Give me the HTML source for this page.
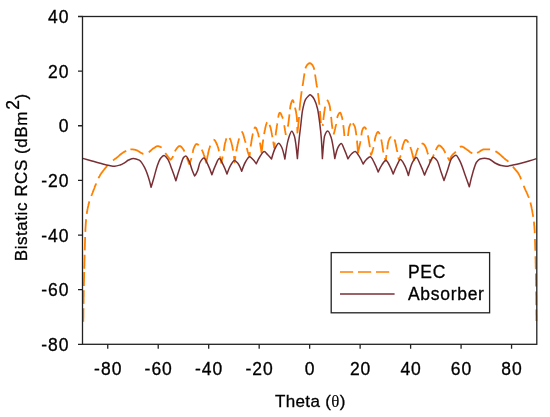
<!DOCTYPE html>
<html><head><meta charset="utf-8"><style>
html,body{margin:0;padding:0;background:#fff;}
body{width:550px;height:417px;overflow:hidden;}
svg{display:block;}
</style></head><body>
<svg width="550" height="417" viewBox="0 0 550 417">
<rect width="550" height="417" fill="#fff"/>
<path d="M83.3 321.8L83.3 320.9 83.3 320.1 83.3 319.2 83.3 318.4 83.4 317.6 83.4 316.8 83.4 315.9 83.4 315.1 83.4 314.3 83.4 313.5 83.4 312.6 83.4 311.8 83.4 311.0 83.4 310.2 83.5 309.4 83.5 308.5 83.5 308.2M83.5 303.8L83.6 303.0 83.6 302.2 83.6 301.3 83.6 300.5 83.6 299.6 83.6 298.8 83.6 298.0 83.6 297.2 83.7 296.4 83.7 295.5 83.7 294.7 83.7 293.9 83.7 293.1 83.7 292.2 83.8 291.4 83.8 290.6 83.8 290.2M83.9 286.0L83.9 285.2 83.9 284.3 83.9 283.5 83.9 282.7 84.0 281.9 84.0 281.1 84.0 280.3 84.0 279.4 84.0 278.6 84.1 277.8 84.1 277.0 84.1 276.2 84.1 275.3 84.1 274.5 84.1 273.7 84.2 272.9 84.2 272.1 84.2 272.0M84.3 268.8L84.3 268.0 84.3 267.2 84.3 266.3 84.4 265.5 84.4 264.7 84.4 263.9 84.4 263.1 84.4 262.3 84.5 261.4 84.5 260.6 84.5 259.8 84.5 259.0 84.5 258.1 84.6 257.3 84.6 256.5 84.6 255.6 84.6 254.8M84.7 250.4L84.8 249.6 84.8 248.7 84.8 247.9 84.8 247.1 84.9 246.3 84.9 245.5 84.9 244.7 84.9 243.8 85.0 243.0 85.0 242.2 85.0 241.4 85.0 240.6 85.1 239.8 85.1 239.0 85.1 238.1 85.1 237.3 85.1 237.0M85.3 231.9L85.4 231.1 85.4 230.3 85.4 229.5 85.5 228.7 85.5 227.8 85.6 227.0 85.6 226.2 85.7 225.4 85.7 224.6 85.8 223.7 85.8 222.9 85.9 222.1 86.0 221.2 86.0 220.4 86.1 219.6 86.2 219.3M86.8 213.8L86.9 213.0 87.0 212.2 87.2 211.3 87.3 210.5 87.4 209.7 87.6 208.9 87.7 208.1 87.9 207.3 88.1 206.5 88.3 205.7 88.4 204.9 88.7 204.1 88.9 203.3 89.1 202.5 89.3 201.7 89.4 201.4M91.3 196.0L91.6 195.2 91.9 194.5 92.2 193.7 92.5 193.0 92.8 192.2 93.1 191.4 93.4 190.6 93.7 189.8 94.0 189.1 94.3 188.3 94.6 187.5 94.8 186.8 95.1 186.0 95.5 185.3 95.8 184.5 96.1 183.7 96.2 183.4M98.5 178.3L98.8 177.5 99.2 176.8 99.6 176.1 100.0 175.3 100.4 174.6 100.9 173.9 101.3 173.2 101.8 172.6 102.3 171.9 102.8 171.3 103.3 170.6 103.8 170.0 104.3 169.3 104.8 168.7 105.4 168.0 105.9 167.4 106.4 166.8 106.9 166.1 107.3 165.7M113.1 160.5L113.8 159.9 114.4 159.4 115.0 158.9 115.7 158.4 116.4 157.9 117.0 157.4 117.7 156.9 118.3 156.4 118.9 155.9 119.5 155.3 120.1 154.8 120.8 154.3 121.4 153.7 122.1 153.2 122.8 152.8 123.5 152.3 124.2 151.9 124.9 151.4 125.6 151.1 126.2 150.8M130.4 149.4L131.2 149.3 132.1 149.3 132.9 149.4 133.8 149.6 134.5 149.7 135.3 149.9 136.1 150.1 136.9 150.3 137.6 150.7 138.4 151.1 139.0 151.6 139.7 152.0 140.4 152.5 141.1 152.9 141.9 153.2 142.6 153.6 143.3 153.9 143.4 153.9M148.8 152.4L149.4 151.8 150.0 151.3 150.6 150.8 151.2 150.2 151.8 149.6 152.4 149.1 153.1 148.6 153.8 148.1 154.5 147.7 155.2 147.2 155.8 146.8 156.6 146.4 157.4 146.2 158.2 146.2 159.0 146.4 159.8 146.6 160.5 147.0 161.3 147.3 161.7 147.5M165.3 153.0L165.8 153.7 166.3 154.4 166.8 155.0 167.2 155.7 167.7 156.3 168.2 157.0 168.8 157.7 169.3 158.4 169.8 159.0 170.3 159.7 170.9 159.4 171.5 158.8 172.0 158.1 172.4 157.5 172.9 156.8 173.2 156.2M175.0 151.4L175.3 150.6 175.7 149.9 176.2 149.2 176.7 148.5 177.2 147.9 177.7 147.3 178.3 146.7 178.9 146.2 179.7 146.0 180.5 146.2 181.2 146.7 181.7 147.3 182.2 147.9 182.7 148.6 183.2 149.3 183.7 150.0 184.1 150.7 184.4 151.4 184.5 151.5M186.9 157.8L187.2 158.6 187.5 159.4 187.8 160.2 188.1 160.9 188.4 161.7 188.6 162.4 188.9 163.2 189.2 164.0 189.6 163.3 190.0 162.5 190.3 161.7 190.6 161.0 190.8 160.2 191.1 159.4 191.3 158.6 191.5 158.0M192.7 152.8L192.8 152.0 193.0 151.2 193.1 150.4 193.3 149.6 193.6 148.8 193.9 148.0 194.2 147.3 194.6 146.5 194.9 145.8 195.3 145.1 195.8 144.4 196.5 144.0 197.3 144.2 198.0 144.6 198.6 145.1 198.7 145.3M201.8 149.6L202.1 150.4 202.5 151.1 202.8 151.9 203.1 152.6 203.4 153.4 203.7 154.2 203.9 155.0 204.2 155.8 204.4 156.6 204.7 157.4 204.9 158.2 205.1 159.0 205.4 159.8 205.6 160.6 205.8 161.4 206.0 162.1 206.2 162.9 206.3 162.2 206.5 161.4 206.6 160.7 206.8 159.8 206.9 159.0 207.1 158.2 207.3 157.4 207.4 156.6 207.6 155.8 207.8 155.0 208.0 154.2 208.2 153.3 208.4 152.5 208.5 151.7 208.7 150.9 208.9 150.1 209.1 149.3 209.3 148.5 209.6 147.7 209.8 146.9 210.1 146.2 210.3 145.7M213.5 139.7L214.3 139.8 214.8 140.3 215.3 141.0 215.7 141.7 216.0 142.5 216.4 143.2 216.7 144.0 217.1 144.7 217.4 145.5 217.7 146.2 217.9 147.0 218.2 147.8 218.4 148.6 218.6 149.4 218.8 150.2 219.0 151.0 219.1 151.3M220.1 156.3L220.2 157.1 220.4 157.9 220.5 158.7 220.7 159.5 220.8 160.3 220.9 161.1 221.0 161.9 221.2 162.8 221.3 162.4 221.5 161.7 221.7 160.9 221.9 160.1 222.1 159.3 222.3 158.5 222.5 157.7 222.6 156.9 222.7 156.5M223.8 150.8L223.9 150.0 224.1 149.1 224.2 148.3 224.3 147.5 224.4 146.6 224.6 145.8 224.7 145.0 224.8 144.3 225.0 143.4 225.2 142.6 225.5 141.8 225.7 141.0 225.9 140.2 226.1 139.4 226.4 138.6 226.5 138.4M229.5 138.0L229.9 138.7 230.3 139.5 230.6 140.2 230.9 141.0 231.1 141.8 231.4 142.6 231.6 143.4 231.8 144.1 232.0 145.0 232.2 145.8 232.3 146.6 232.5 147.4 232.6 148.2 232.8 149.0 233.0 149.8 233.1 150.6M233.9 156.1L234.0 156.9 234.1 157.7 234.2 158.5 234.3 159.4 234.3 160.2 234.4 161.0 234.5 161.8 234.6 162.4 234.7 161.6 234.8 160.7 235.0 159.9 235.1 159.1 235.2 158.3 235.3 157.5 235.4 156.7 235.5 156.2M236.3 151.4L236.4 150.6 236.6 149.8 236.7 149.0 236.9 148.2 237.0 147.4 237.2 146.6 237.4 145.7 237.5 144.9 237.7 144.1 237.9 143.4 238.1 142.5 238.3 141.7 238.5 140.9 238.7 140.1 238.9 139.3 239.1 138.5 239.1 138.4M241.4 131.9L242.1 132.0 242.6 132.7 242.9 133.5 243.2 134.3 243.4 135.1 243.7 135.9 243.9 136.7 244.1 137.5 244.3 138.3 244.6 139.1 244.8 139.9 245.0 140.7 245.3 141.5 245.5 142.3 245.6 142.7M246.8 148.0L247.0 148.8 247.2 149.6 247.4 150.4 247.6 151.2 247.8 152.0 248.1 152.7 248.3 153.5 248.6 154.3 248.9 155.1 249.2 155.9 249.5 156.3 249.6 155.5 249.7 154.7 249.8 153.9 249.9 153.0 250.0 152.2M250.7 146.5L250.8 145.6 250.9 144.8 251.0 144.0 251.2 143.2 251.3 142.4 251.4 141.6 251.6 140.8 251.7 140.0 251.8 139.1 252.0 138.3 252.1 137.5 252.2 136.7 252.4 135.9 252.6 135.1 252.7 134.3 252.9 133.6M254.3 128.7L254.6 127.9 255.0 127.3 255.7 127.5 256.2 128.2 256.5 129.0 256.9 129.7 257.1 130.5 257.4 131.3 257.7 132.0 257.9 132.8 258.2 133.6 258.4 134.4 258.5 135.2 258.7 136.0 258.9 136.8 258.9 137.2M260.0 142.7L260.1 143.5 260.3 144.4 260.4 145.2 260.5 146.0 260.7 146.8 260.8 147.6 260.9 148.4 261.1 149.3 261.2 150.1 261.3 150.9 261.4 151.7 261.5 152.6 261.6 152.6 261.7 151.8 261.8 151.0 261.9 150.2 262.0 149.4 262.1 148.6 262.2 147.7 262.3 146.9 262.4 146.1 262.5 145.3 262.5 144.5 262.6 143.6 262.8 142.8 262.9 142.0 263.0 141.2 263.1 140.3 263.2 139.5 263.2 139.4M264.1 134.1L264.3 133.3 264.4 132.4 264.6 131.6 264.7 130.8 264.9 130.0 265.1 129.2 265.2 128.4 265.4 127.5 265.6 126.7 265.8 125.9 266.0 125.1 266.2 124.3 266.5 123.6 266.8 122.8 267.4 122.5M269.4 124.9L269.8 125.6 270.1 126.4 270.4 127.2 270.6 127.9 270.8 128.7 271.0 129.5 271.1 130.3 271.3 131.1 271.5 131.9 271.6 132.7 271.8 133.5 271.9 134.4 272.1 135.2 272.2 136.0 272.4 136.8 272.5 137.2M273.2 141.6L273.4 142.4 273.5 143.2 273.6 144.1 273.7 144.9 273.9 145.7 274.0 146.5 274.1 147.3 274.2 147.8 274.3 147.0 274.4 146.2 274.5 145.4 274.6 144.5 274.6 143.7 274.7 142.9 274.8 142.5M275.6 135.4L275.7 134.6 275.8 133.8 275.9 133.0 276.0 132.2 276.1 131.4 276.2 130.6 276.3 129.8 276.5 129.0 276.6 128.2 276.7 127.3 276.8 126.5 276.9 125.7 277.1 124.9 277.2 124.0 277.3 123.3M278.2 117.7L278.3 116.9 278.5 116.1 278.6 115.3 278.8 114.5 279.1 113.7 279.4 113.0 280.1 112.9 280.7 113.5 281.1 114.2 281.5 115.0 281.8 115.8 282.1 116.5 282.4 117.3 282.7 118.1 282.9 118.6M284.2 125.3L284.4 126.1 284.5 126.9 284.6 127.7 284.8 128.5 284.9 129.3 285.0 130.2 285.2 131.0 285.3 131.8 285.4 132.6 285.6 133.4 285.7 134.2 285.8 135.0M287.9 126.6L288.1 125.8 288.2 125.0 288.3 124.2 288.4 123.3 288.5 122.5 288.6 121.7 288.7 120.9 288.8 120.1 288.9 119.2 289.0 118.4 289.1 117.6 289.2 116.8 289.3 115.9 289.4 115.1 289.5 114.4M290.0 109.3L290.1 108.5 290.2 107.7 290.3 106.8 290.4 106.0 290.6 105.2 290.8 104.4 291.1 103.6 291.3 102.8 291.5 102.0 291.8 101.3 292.2 100.5 292.8 100.1 293.2 100.8 293.5 101.6 293.7 102.4 293.9 103.1M295.0 107.6L295.2 108.4 295.4 109.2 295.6 110.0 295.8 110.8 296.0 111.6 296.1 112.4 296.2 113.2 296.4 114.0 296.5 114.8 296.6 115.6 296.7 116.4 296.8 117.3 296.9 118.1 296.9 118.9 297.0 119.8 297.1 120.6 297.1 121.4 297.1 122.0M297.2 126.8L297.3 127.7 297.3 128.5 297.3 129.4 297.3 130.2 297.4 131.1 297.4 131.9 297.4 132.7 297.5 132.1 297.6 131.3 297.7 130.5 297.8 129.7 297.9 128.8 298.0 128.0 298.1 127.2 298.2 126.4 298.3 125.6 298.3 124.7 298.4 123.9 298.5 123.0 298.6 122.2 298.7 121.4 298.7 120.6 298.8 119.8 298.9 119.0 298.9 118.1 299.0 117.3 299.0 117.0M299.5 110.5L299.6 109.7 299.6 108.9 299.7 108.0 299.8 107.2 299.9 106.4 300.0 105.6 300.0 104.8 300.1 103.9 300.2 103.1 300.3 102.3 300.4 101.5 300.5 100.7 300.6 99.9 300.7 99.1 300.8 98.2 300.9 97.4 301.0 96.6 301.1 95.7 301.2 94.9 301.3 94.1 301.4 93.3 301.5 92.4 301.6 91.6 301.6 91.3M302.6 86.0L302.7 85.2 302.8 84.4 303.0 83.6 303.1 82.8 303.2 82.0 303.3 81.2 303.4 80.4 303.6 79.6 303.7 78.7 303.8 77.9 303.9 77.1 304.0 76.3 304.2 75.5 304.3 74.7 304.4 73.9 304.5 73.4M305.4 68.4L305.7 67.6 306.0 66.9 306.4 66.1 306.8 65.4 307.3 64.7 307.9 64.2 308.5 63.6 309.2 63.2 310.0 63.1 310.7 63.5 311.4 64.0 312.0 64.6 312.5 65.2 312.9 65.9 313.3 66.6 313.6 67.3 313.9 68.1 314.1 68.9 314.3 69.7M315.1 74.5L315.2 75.3 315.3 76.1 315.5 77.0 315.6 77.8 315.7 78.6 315.8 79.4 315.9 80.2 316.1 81.0 316.2 81.8 316.3 82.6 316.4 83.5 316.5 84.3 316.7 85.1 316.8 85.9 317.0 86.7 317.1 87.5M318.0 93.2L318.1 94.0 318.2 94.9 318.3 95.7 318.4 96.5 318.5 97.3 318.6 98.2 318.7 99.0 318.8 99.8 318.9 100.7 319.0 101.5 319.1 102.3 319.2 103.1 319.3 103.9 319.4 104.7 319.4 104.8M320.0 111.0L320.0 111.9 320.1 112.7 320.1 113.5 320.2 114.3 320.3 115.2 320.3 116.0 320.4 116.8 320.4 117.6 320.5 118.4 320.6 119.2 320.6 120.1 320.7 120.9 320.8 121.7 320.9 122.5 320.9 123.1M322.8 125.9L322.9 125.0 322.9 124.2 323.0 124.0M323.4 120.0L323.4 119.2 323.5 118.4 323.6 117.6 323.7 116.8 323.8 116.0 323.9 115.1 324.0 114.3 324.1 113.5 324.2 112.7 324.3 111.9 324.4 111.0 324.6 110.2 324.7 109.4 324.8 108.6 324.9 107.8 325.1 107.0 325.2 106.6M327.0 100.0L327.6 100.6 328.1 101.3 328.4 102.1 328.7 102.8 329.0 103.6 329.3 104.4 329.5 105.2 329.7 106.0 329.9 106.8 330.0 107.6 330.1 108.4 330.2 109.2 330.3 110.0 330.4 110.8M331.1 116.8L331.2 117.6 331.3 118.5 331.4 119.3 331.5 120.1 331.5 120.9 331.6 121.8 331.7 122.6 331.8 123.4 331.9 124.2 331.9 125.0 332.0 125.8 332.2 126.7 332.3 127.5 332.4 128.3 332.5 128.8M333.6 134.5L333.8 133.7 334.1 132.9 334.3 132.1 334.5 131.3 334.7 130.5 334.9 129.7 335.1 128.9 335.2 128.1 335.4 127.3 335.6 126.5 335.8 125.7 336.0 124.9 336.1 124.1 336.1 124.0M337.1 118.0L337.3 117.3 337.5 116.5 337.9 115.7 338.2 114.9 338.5 114.2 339.0 113.5 339.5 112.8 340.2 112.7 340.7 113.3 341.0 114.1 341.3 114.9 341.5 115.7 341.8 116.5 342.0 117.3 342.2 118.1 342.4 118.9 342.5 119.7 342.6 119.9M343.3 125.2L343.4 126.0 343.5 126.8 343.6 127.6 343.7 128.5 343.8 129.3 343.9 130.2 344.0 131.0 344.0 131.8 344.1 132.6 344.2 133.5 344.3 134.3 344.3 135.1 344.4 135.9 344.4 136.0M346.9 141.6L346.9 141.5M348.0 136.0L348.1 135.2 348.2 134.4 348.3 133.6 348.4 132.8 348.5 132.0 348.6 131.1 348.7 130.3 348.8 129.5 348.9 128.7 349.0 127.9 349.2 127.1 349.5 126.3 349.8 125.5 350.1 124.7 350.5 124.0 350.9 123.5M352.7 123.4L353.3 124.0 353.8 124.7 354.2 125.4 354.6 126.1 354.9 126.8 355.1 127.6 355.3 128.5 355.4 129.3 355.6 130.1 355.7 131.0 355.8 131.8 356.0 132.6 356.1 133.4 356.2 134.2 356.3 135.1 356.3 135.3M357.0 140.6L357.1 141.5 357.1 142.3 357.2 143.1 357.3 143.9 357.4 144.7 357.4 145.5 357.5 146.4 357.6 147.2 357.6 148.1 357.7 148.9 357.8 149.7 357.8 150.5 357.9 151.3 358.0 152.2 358.1 152.6 358.3 151.8 358.4 151.0 358.6 150.2 358.8 149.4 359.0 148.6 359.2 147.8 359.3 147.0 359.5 146.2 359.7 145.3 359.9 144.5 360.0 143.7 360.2 142.9 360.3 142.1 360.5 141.3 360.5 141.2M361.4 135.3L361.5 134.5 361.6 133.7 361.7 132.9 361.8 132.1 362.0 131.3 362.2 130.5 362.5 129.7 362.8 128.9 363.2 128.2 363.7 127.6 364.4 127.2 365.1 127.6 365.6 128.2 366.0 128.9 366.3 129.5M368.0 135.3L368.1 136.1 368.2 136.9 368.4 137.7 368.5 138.5 368.6 139.3 368.7 140.1 368.9 140.9 369.0 141.7 369.1 142.5 369.3 143.4 369.4 144.2 369.5 145.0 369.7 145.8 369.8 146.6 369.9 147.1M370.6 152.4L370.7 153.2 370.9 154.0 371.0 154.8 371.3 154.5 371.6 153.7 371.9 152.9 372.1 152.1 372.4 151.4 372.6 150.6 372.8 149.8 373.0 149.0 373.3 148.2 373.5 147.4 373.6 147.1M374.6 141.3L374.7 140.5 374.9 139.6 375.0 138.8 375.2 138.0 375.4 137.2 375.6 136.4 375.9 135.6 376.2 134.8 376.4 134.1 376.8 133.3 377.2 132.6 377.7 131.9 378.4 132.0 378.9 132.6 379.3 133.3 379.6 134.1 379.6 134.2M381.2 139.5L381.4 140.3 381.6 141.1 381.7 141.9 381.9 142.7 382.0 143.6 382.1 144.4 382.3 145.2 382.4 146.0 382.5 146.8 382.6 147.6 382.7 148.5 382.9 149.3 383.0 150.1 383.1 150.9 383.3 151.7 383.5 152.5M384.8 157.9L385.0 158.6 385.2 159.4 385.5 160.2 385.8 161.0 385.9 160.2 386.0 159.4 386.1 158.5 386.1 157.7 386.2 156.9 386.3 156.1 386.4 155.2 386.4 155.1M387.2 149.3L387.3 148.5 387.4 147.6 387.5 146.8 387.6 146.0 387.7 145.2 387.9 144.4 388.0 143.5 388.1 142.7 388.3 141.9 388.5 141.1 388.8 140.3 389.1 139.6 389.4 138.8 389.8 138.1 390.3 137.5 391.0 137.2 391.3 137.3M394.3 139.6L394.8 140.3 395.0 141.1 395.2 141.8 395.4 142.7 395.6 143.5 395.7 144.3 395.9 145.2 396.0 146.0 396.2 146.8 396.4 147.6 396.6 148.4 396.7 149.2 396.9 150.0 397.1 150.8 397.3 151.6 397.3 151.9M398.3 157.4L398.5 158.2 398.6 159.0 398.9 159.5 399.3 158.8 399.7 158.0 400.1 157.3 400.4 156.5 400.6 155.7 400.8 155.3M402.0 149.8L402.2 149.0 402.3 148.2 402.5 147.3 402.6 146.5 402.8 145.8 403.0 145.0 403.3 144.2 403.6 143.4 403.9 142.6 404.2 141.8 404.5 141.1 404.9 140.4 405.5 139.8 406.3 140.0 406.9 140.5 407.4 141.2 407.9 141.8 408.4 142.5 408.4 142.6M410.3 147.0L410.6 147.8 410.8 148.5 411.1 149.3 411.4 150.1 411.6 150.9 411.8 151.7 412.0 152.5 412.2 153.2 412.4 154.1 412.6 154.8 412.8 155.7 413.0 156.4 413.2 157.2 413.4 158.0 413.6 158.9 413.7 159.4M414.0 160.9L414.2 160.1 414.4 159.3 414.7 158.5 414.9 157.7 415.1 156.9 415.3 156.1 415.6 155.4 415.8 154.6 416.1 153.8 416.3 153.0 416.6 152.2 416.8 151.4 417.1 150.6 417.4 149.8 417.7 149.1 418.1 148.3 418.3 148.0M421.6 143.8L422.4 143.5 423.1 143.7 423.8 144.2 424.3 144.8 424.8 145.5 425.2 146.2 425.6 146.9 425.9 147.6 426.2 148.4 426.5 149.1 426.7 149.9 427.0 150.7 427.2 151.5 427.4 152.3 427.7 153.1 427.9 153.9 428.1 154.3M429.4 159.1L429.6 159.9 429.8 160.7 430.0 161.4 430.2 162.2 430.5 161.6 430.9 160.9 431.3 160.1 431.6 159.4 432.0 158.6 432.3 157.9 432.7 157.1 433.0 156.4 433.4 155.6 433.7 154.9 433.9 154.5M435.7 150.0L436.1 149.3 436.5 148.6 436.9 147.8 437.3 147.1 437.8 146.4 438.3 145.8 439.0 145.4 439.8 145.6 440.5 146.0 441.1 146.6 441.7 147.2 442.2 147.8 442.7 148.4 443.3 149.0 443.7 149.7 444.1 150.5 444.5 151.2 444.9 151.9 445.2 152.7 445.4 153.0M447.8 157.4L448.1 158.1 448.5 158.8 448.9 159.6 449.3 160.3 449.6 160.0 449.9 159.2 450.3 158.4 450.6 157.7 451.0 156.9 451.4 156.2 451.9 155.5 452.4 154.9 453.0 154.3 453.6 153.8 454.2 153.2 454.8 152.7 455.4 152.1 455.8 151.7M459.8 146.9L460.6 146.6 461.4 146.5 462.2 146.7 463.0 147.0 463.7 147.4 464.4 147.8 465.0 148.3 465.7 148.8 466.4 149.2 467.1 149.7 467.8 150.1 468.4 150.6 469.1 151.2 469.7 151.7 470.4 152.2 471.1 152.6 471.8 153.0 472.4 153.3M477.0 152.8L477.8 152.5 478.5 152.1 479.3 151.7 480.0 151.3 480.6 150.8 481.3 150.4 482.1 150.0 482.8 149.7 483.6 149.4 484.4 149.4 485.2 149.4 486.0 149.3 486.8 149.3 487.6 149.3 488.4 149.3 489.2 149.3 490.0 149.4 490.1 149.4M495.4 151.2L496.1 151.6 496.8 152.0 497.5 152.5 498.1 153.0 498.8 153.5 499.4 154.0 500.1 154.6 500.7 155.1 501.3 155.7 501.9 156.2 502.5 156.8 503.1 157.3 503.7 157.9 504.3 158.4 505.0 159.0 505.6 159.5 506.3 160.0 507.0 160.4 507.6 160.9 508.3 161.4 508.5 161.6M512.9 166.6L513.4 167.3 513.9 167.9 514.5 168.6 515.0 169.2 515.5 169.8 516.0 170.4 516.6 171.1 517.1 171.7 517.6 172.3 518.1 173.0 518.5 173.7 518.9 174.4 519.3 175.1 519.7 175.9 520.1 176.6 520.4 177.4 520.7 178.1 521.0 178.9 521.2 179.2M523.7 185.8L524.0 186.6 524.3 187.4 524.7 188.1 525.0 188.9 525.3 189.6 525.7 190.4 526.0 191.1 526.4 191.8 526.7 192.6 527.1 193.3 527.4 194.1 527.7 194.8 528.0 195.6 528.3 196.3 528.7 197.1 528.9 197.9M530.4 202.5L530.6 203.3 530.8 204.1 531.0 204.9 531.2 205.7 531.3 206.5 531.5 207.3 531.7 208.1 531.8 208.9 532.0 209.7 532.2 210.6 532.3 211.4 532.4 212.2 532.6 213.0 532.7 213.9 532.9 214.7 533.0 215.5 533.1 216.3 533.2 216.8M533.9 221.7L534.0 222.6 534.1 223.4 534.1 224.3 534.2 225.1 534.3 225.9 534.4 226.7 534.4 227.6 534.5 228.4 534.5 229.2 534.6 230.0 534.7 230.8 534.7 231.6 534.7 232.4 534.8 233.2M535.0 238.9L535.0 239.7 535.0 240.6 535.0 241.4 535.1 242.2 535.1 243.0 535.1 243.9 535.1 244.7 535.2 245.5 535.2 246.4 535.2 247.2 535.2 248.0 535.3 248.9 535.3 249.7 535.3 250.5 535.3 250.8M535.5 256.2L535.5 257.0 535.5 257.9 535.5 258.7 535.6 259.5 535.6 260.3 535.6 261.1 535.6 262.0 535.6 262.8 535.7 263.6 535.7 264.5 535.7 265.3 535.7 266.1 535.7 267.0 535.8 267.8 535.8 268.6 535.8 269.3M535.9 273.6L535.9 274.4 535.9 275.2 535.9 276.1 535.9 276.9 535.9 277.7 535.9 278.5 535.9 279.4 536.0 280.2 536.0 281.0 536.0 281.9 536.0 282.7 536.0 283.5 536.0 284.3 536.0 285.2 536.0 286.0 536.0 286.6M536.1 291.6L536.1 292.5 536.1 293.3 536.1 294.1 536.1 294.9 536.2 295.8 536.2 296.6 536.2 297.4 536.2 298.2 536.2 299.1 536.2 299.9 536.2 300.7 536.2 301.5 536.2 302.3 536.2 303.1 536.2 304.0 536.3 304.8 536.3 305.3M536.3 309.6L536.3 310.4 536.3 311.2 536.3 312.1 536.3 312.9 536.3 313.7 536.3 314.6 536.4 315.4 536.4 316.2 536.4 317.0 536.4 317.8 536.4 318.7 536.4 319.5 536.4 320.3 536.4 321.0" fill="none" stroke="#FF8000" stroke-width="1.8" stroke-linejoin="round"/>
<path d="M82.80 158.40C85.57 159.17 88.33 159.94 91.10 160.70C94.13 161.54 97.17 162.40 100.20 163.20C103.23 164.00 106.27 164.99 109.30 165.50C111.10 165.80 112.90 166.20 114.70 166.20C116.53 166.20 118.37 165.57 120.20 165.00C121.63 164.55 123.07 163.64 124.50 162.80C125.87 162.00 127.23 160.61 128.60 160.00C130.23 159.27 131.87 158.40 133.50 158.40C135.40 158.40 137.30 159.22 139.20 160.20C140.93 161.10 142.67 164.12 144.40 167.20C145.73 169.57 147.07 173.26 148.40 177.30C149.30 180.02 150.20 183.49 151.10 187.20C151.97 184.39 152.83 181.49 153.70 178.50C154.80 174.70 155.90 169.88 157.00 166.70C158.10 163.52 159.20 160.15 160.30 158.70C161.53 157.08 162.77 155.40 164.00 155.40C165.30 155.40 166.60 157.52 167.90 159.40C169.23 161.33 170.57 165.77 171.90 169.30C173.23 172.83 174.57 176.65 175.90 180.70C177.20 176.12 178.50 171.85 179.80 168.00C181.10 164.15 182.40 158.68 183.70 157.40C184.37 156.74 185.03 156.10 185.70 156.10C186.80 156.10 187.90 158.61 189.00 160.70C190.10 162.79 191.20 167.72 192.30 170.60C193.07 172.60 193.83 174.41 194.60 176.00C195.60 175.07 196.60 172.97 197.60 170.60C198.40 168.70 199.20 163.93 200.00 162.50C201.30 160.17 202.60 158.00 203.90 158.00C205.23 158.00 206.57 161.93 207.90 164.60C209.23 167.27 210.57 170.80 211.90 174.80C213.20 170.78 214.50 167.28 215.80 164.60C216.97 162.19 218.13 158.60 219.30 158.60C220.57 158.60 221.83 162.19 223.10 164.60C224.40 167.08 225.70 170.32 227.00 174.00C228.33 170.06 229.67 166.74 231.00 164.60C232.13 162.78 233.27 160.40 234.40 160.40C235.60 160.40 236.80 162.04 238.00 163.50C239.23 165.01 240.47 167.92 241.70 171.30C242.97 167.48 244.23 164.12 245.50 162.00C246.87 159.71 248.23 156.80 249.60 156.80C250.73 156.80 251.87 158.38 253.00 159.50C254.10 160.59 255.20 162.09 256.30 163.80C257.53 160.89 258.77 158.29 260.00 156.50C261.43 154.42 262.87 151.60 264.30 151.60C265.37 151.60 266.43 153.43 267.50 154.50C268.83 155.83 270.17 157.34 271.50 159.00C272.93 153.70 274.37 149.45 275.80 147.00C276.77 145.35 277.73 143.30 278.70 143.30C279.67 143.30 280.63 145.19 281.60 147.00C282.70 149.06 283.80 153.62 284.90 159.00C286.03 150.57 287.17 143.25 288.30 139.40C289.43 135.55 290.57 131.20 291.70 131.20C292.63 131.20 293.57 133.68 294.50 136.50C295.47 139.42 296.43 148.42 297.40 158.60C298.00 151.03 298.60 144.25 299.20 138.50C299.73 133.39 300.27 129.55 300.80 125.00C301.33 120.45 301.87 114.10 302.40 111.20C303.47 105.40 304.53 101.19 305.60 99.30C306.50 97.71 307.40 96.92 308.30 96.10C308.87 95.58 309.43 94.80 310.00 94.80C310.67 94.80 311.33 95.51 312.00 96.10C312.77 96.77 313.53 97.88 314.30 99.30C315.40 101.33 316.50 104.38 317.60 109.00C318.30 111.94 319.00 117.49 319.70 123.00C320.23 127.20 320.77 131.28 321.30 138.10C321.67 142.79 322.03 150.39 322.40 158.60C323.13 148.46 323.87 138.05 324.60 136.00C325.67 133.02 326.73 131.10 327.80 131.10C328.87 131.10 329.93 134.14 331.00 137.10C332.27 140.62 333.53 148.83 334.80 158.60C335.93 153.36 337.07 148.91 338.20 147.00C339.20 145.32 340.20 143.60 341.20 143.60C342.27 143.60 343.33 147.27 344.40 149.60C345.57 152.15 346.73 155.27 347.90 158.80C349.23 156.49 350.57 154.56 351.90 153.50C353.00 152.63 354.10 151.60 355.20 151.60C356.50 151.60 357.80 154.29 359.10 156.20C360.43 158.16 361.77 160.88 363.10 164.00C364.20 162.16 365.30 160.52 366.40 159.50C367.70 158.30 369.00 156.80 370.30 156.80C371.63 156.80 372.97 160.35 374.30 162.80C375.60 165.19 376.90 168.38 378.20 172.00C379.43 169.19 380.67 166.70 381.90 164.90C383.23 162.95 384.57 160.20 385.90 160.20C387.00 160.20 388.10 162.98 389.20 164.90C390.53 167.23 391.87 170.39 393.20 174.10C394.50 170.50 395.80 167.37 397.10 164.90C398.20 162.81 399.30 159.60 400.40 159.60C401.73 159.60 403.07 162.54 404.40 164.90C405.73 167.26 407.07 171.08 408.40 175.50C409.80 169.66 411.20 164.72 412.60 162.20C413.83 159.98 415.07 157.50 416.30 157.50C417.63 157.50 418.97 161.84 420.30 164.60C421.70 167.50 423.10 171.08 424.50 175.10C425.83 171.77 427.17 168.66 428.50 165.90C430.03 162.73 431.57 157.30 433.10 157.30C434.43 157.30 435.77 158.89 437.10 160.60C438.40 162.27 439.70 168.05 441.00 171.80C442.00 174.69 443.00 177.59 444.00 180.50C445.20 176.91 446.40 173.38 447.60 169.90C448.93 166.04 450.27 160.12 451.60 158.50C453.03 156.75 454.47 155.20 455.90 155.20C457.33 155.20 458.77 158.93 460.20 161.70C461.63 164.47 463.07 169.26 464.50 173.20C466.10 177.60 467.70 182.13 469.30 186.80C470.53 181.11 471.77 176.06 473.00 172.00C474.17 168.16 475.33 163.81 476.50 162.20C477.67 160.59 478.83 159.36 480.00 159.00C481.50 158.54 483.00 158.20 484.50 158.20C486.00 158.20 487.50 158.59 489.00 159.00C491.00 159.55 493.00 161.97 495.00 163.00C497.00 164.03 499.00 165.04 501.00 165.50C502.67 165.88 504.33 166.30 506.00 166.30C508.33 166.30 510.67 165.46 513.00 165.00C515.33 164.54 517.67 164.06 520.00 163.50C523.00 162.78 526.00 161.89 529.00 161.00C531.50 160.25 534.00 159.45 536.50 158.60" fill="none" stroke="#7a2f35" stroke-width="1.5" stroke-linejoin="round"/>
<rect x="82.50" y="16.50" width="454.30" height="327.80" fill="none" stroke="#222" stroke-width="1.3"/>
<path d="M78.00 16.50H82.50M78.00 71.13H82.50M78.00 125.77H82.50M78.00 180.40H82.50M78.00 235.03H82.50M78.00 289.67H82.50M78.00 344.30H82.50M107.74 344.30V348.70M158.22 344.30V348.70M208.69 344.30V348.70M259.17 344.30V348.70M309.65 344.30V348.70M360.13 344.30V348.70M410.61 344.30V348.70M461.08 344.30V348.70M511.56 344.30V348.70" stroke="#222" stroke-width="1.3" fill="none"/>
<rect x="331.2" y="252.6" width="158.4" height="60.2" fill="#fff" stroke="#222" stroke-width="1.3"/>
<path d="M340 272H389.2" stroke="#FF8000" stroke-width="1.6" stroke-dasharray="13.2 4.8"/>
<path d="M340 294H394.6" stroke="#7a2f35" stroke-width="1.5"/>
<g font-family="Liberation Sans, Arial, sans-serif" fill="#000" stroke="#000" stroke-width="0.3" font-size="17.5">
<text x="69.5" y="23.10" text-anchor="end" letter-spacing="1">40</text>
<text x="69.5" y="77.73" text-anchor="end" letter-spacing="1">20</text>
<text x="69.5" y="132.37" text-anchor="end" letter-spacing="1">0</text>
<text x="69.5" y="187.00" text-anchor="end" letter-spacing="1">-20</text>
<text x="69.5" y="241.63" text-anchor="end" letter-spacing="1">-40</text>
<text x="69.5" y="296.27" text-anchor="end" letter-spacing="1">-60</text>
<text x="69.5" y="350.90" text-anchor="end" letter-spacing="1">-80</text>
<text x="108.24" y="374.5" text-anchor="middle" letter-spacing="1">-80</text>
<text x="158.72" y="374.5" text-anchor="middle" letter-spacing="1">-60</text>
<text x="209.19" y="374.5" text-anchor="middle" letter-spacing="1">-40</text>
<text x="259.67" y="374.5" text-anchor="middle" letter-spacing="1">-20</text>
<text x="310.15" y="374.5" text-anchor="middle" letter-spacing="1">0</text>
<text x="360.63" y="374.5" text-anchor="middle" letter-spacing="1">20</text>
<text x="411.11" y="374.5" text-anchor="middle" letter-spacing="1">40</text>
<text x="461.58" y="374.5" text-anchor="middle" letter-spacing="1">60</text>
<text x="512.06" y="374.5" text-anchor="middle" letter-spacing="1">80</text>
<text x="275" y="406.8" font-size="17" letter-spacing="0.35">Theta (<tspan font-family="Liberation Serif, serif" stroke-width="0.1">θ</tspan>)</text>
<text transform="translate(26.8 261.2) rotate(-90)" font-size="17" letter-spacing="0.55">Bistatic RCS (dBm<tspan dy="-8" font-size="17.5" dx="1.4">2</tspan><tspan dy="8">)</tspan></text>
<text x="408" y="278.1" letter-spacing="0.7">PEC</text>
<text x="408" y="299.5" letter-spacing="0.7">Absorber</text>
</g>
</svg>
</body></html>
